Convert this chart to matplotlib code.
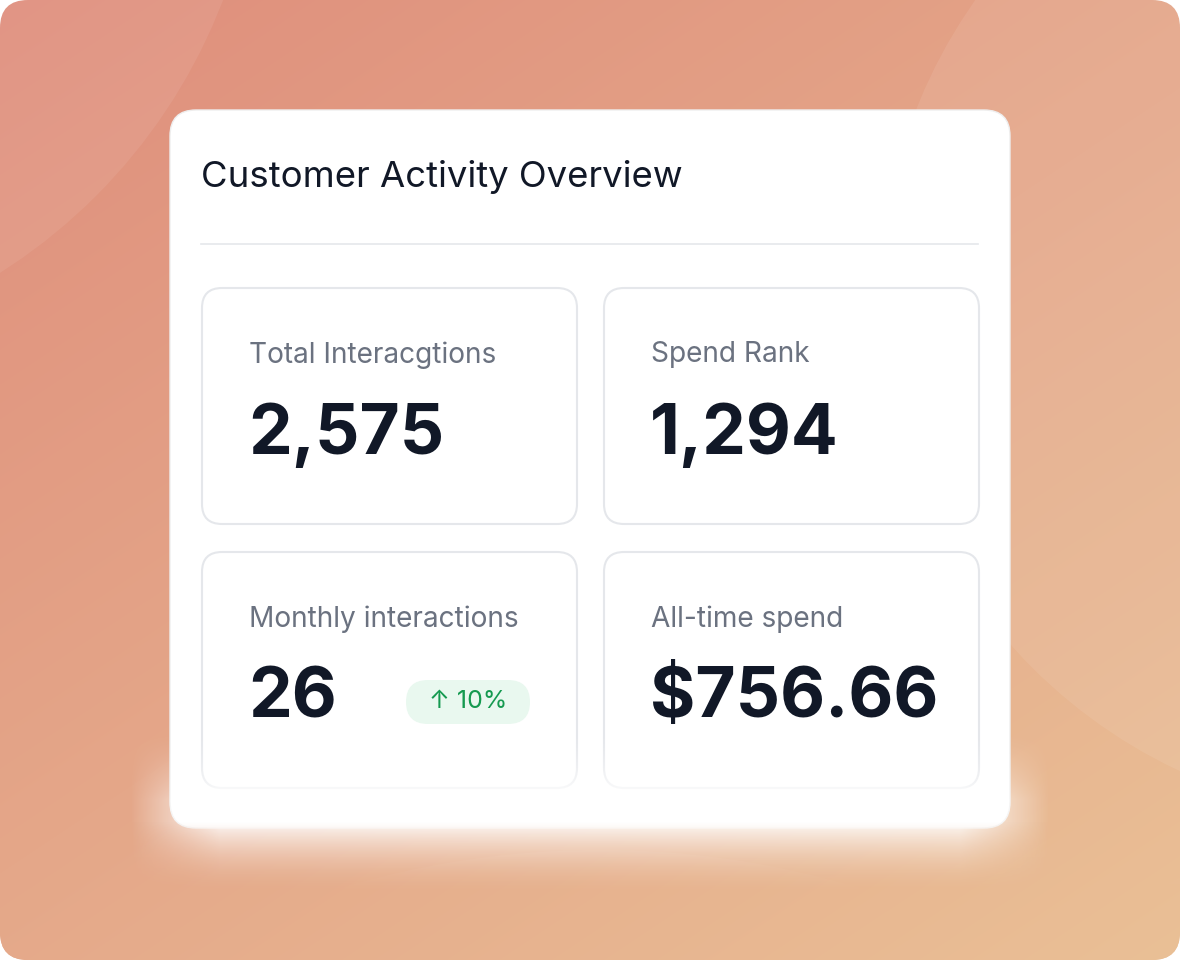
import numpy as np
import matplotlib
matplotlib.use("Agg")
import matplotlib.pyplot as plt
from matplotlib.patches import FancyBboxPatch, Circle

title = "Customer Activity Overview"
labels = ["Total Interacgtions", "Spend Rank", "Monthly interactions", "All-time spend"]
values = ["2,575", "1,294", "26", "$756.66"]
badge_text = "↑ 10%"

W, H = 1180, 960
fig = plt.figure(figsize=(11.8, 9.6), dpi=100)
ax = fig.add_axes([0, 0, 1, 1])
ax.set_xlim(0, W); ax.set_ylim(H, 0); ax.axis("off")

yy, xx = np.mgrid[0:H, 0:W]
t = (xx / W * 0.45 + yy / H * 0.55)
c0 = np.array([0xdf, 0x8e, 0x7c]) / 255
c1 = np.array([0xea, 0xc0, 0x96]) / 255
img = c0[None, None, :] * (1 - t[..., None]) + c1[None, None, :] * t[..., None]
bgpatch = FancyBboxPatch((0, 0), W, H, boxstyle="round,pad=0,rounding_size=28",
                         fc="none", ec="none")
ax.add_patch(bgpatch)
im = ax.imshow(img, extent=(0, W, H, 0), zorder=0)
im.set_clip_path(bgpatch)

for (cx, cy, r, a) in [(1500, 1500, 700, 0.10), (600, 1750, 900, 0.10),
                       (-300, -200, 560, 0.07), (1400, 300, 520, 0.08)]:
    c = Circle((cx, cy), r, fc="white", ec="none", alpha=a, zorder=1)
    ax.add_patch(c); c.set_clip_path(bgpatch)

ax.add_patch(FancyBboxPatch((170, 110), 840, 718, boxstyle="round,pad=0,rounding_size=26",
                            fc="white", ec="#eeeeee", lw=1, zorder=2))
ax.text(201, 177, title, fontsize=26.3, color="#111827", va="center", ha="left",
        family="Inter", zorder=5)
ax.plot([201, 978], [244, 244], color="#e5e7eb", lw=1.2, zorder=5)

tiles = [(202, 288), (604, 288), (202, 552), (604, 552)]
for (x, y), lab, val in zip(tiles, labels, values):
    ax.add_patch(FancyBboxPatch((x, y), 375, 236, boxstyle="round,pad=0,rounding_size=20",
                                fc="white", ec="#e5e7eb", lw=1.5, zorder=3))
    ax.text(x + 47, y + 67, lab, fontsize=20.2, color="#6b7280", va="center",
            family="Inter", zorder=5)
    ax.text(x + 46, y + 147, val, fontsize=50, color="#111827", va="center",
            family="Inter", fontweight="bold", zorder=5)

ax.add_patch(FancyBboxPatch((406, 680), 124, 44, boxstyle="round,pad=0,rounding_size=22",
                            fc="#e9f8ef", ec="none", zorder=5))
ax.text(468, 702, badge_text, fontsize=18, color="#159a50", ha="center", va="center",
        family=["Inter", "DejaVu Sans"], zorder=6)

# bottom fade: smooth white glow, then background returns
y0 = 730
fade_h = 960 - y0
fy = np.linspace(0, 1, fade_h)
up = np.clip(fy / 0.3, 0, 1) ** 1.5
down = np.clip(1 - (fy - 0.4) / 0.35, 0, 1)
fx = np.linspace(0, W, W)
edge = np.clip((np.minimum(fx - 130, 1050 - fx)) / 90, 0, 1)[None, :]
fade_img = np.ones((fade_h, W, 4))
fade_img[..., 3] = (up * down)[:, None] * edge * 0.95
ax.imshow(fade_img, extent=(0, W, 960, y0), zorder=7)
bg_low = np.concatenate([img[y0:], np.ones((fade_h, W, 1))], axis=2)
a2 = np.clip((fy - 0.4) / 0.3, 0, 1)[:, None] * np.ones((1, W))
bg_low[..., 3] = a2
im2 = ax.imshow(bg_low, extent=(0, W, 960, y0), zorder=8)
im2.set_clip_path(bgpatch)
ax.set_xlim(0, W); ax.set_ylim(H, 0)

fig.savefig("out.png", dpi=100, facecolor="white")
